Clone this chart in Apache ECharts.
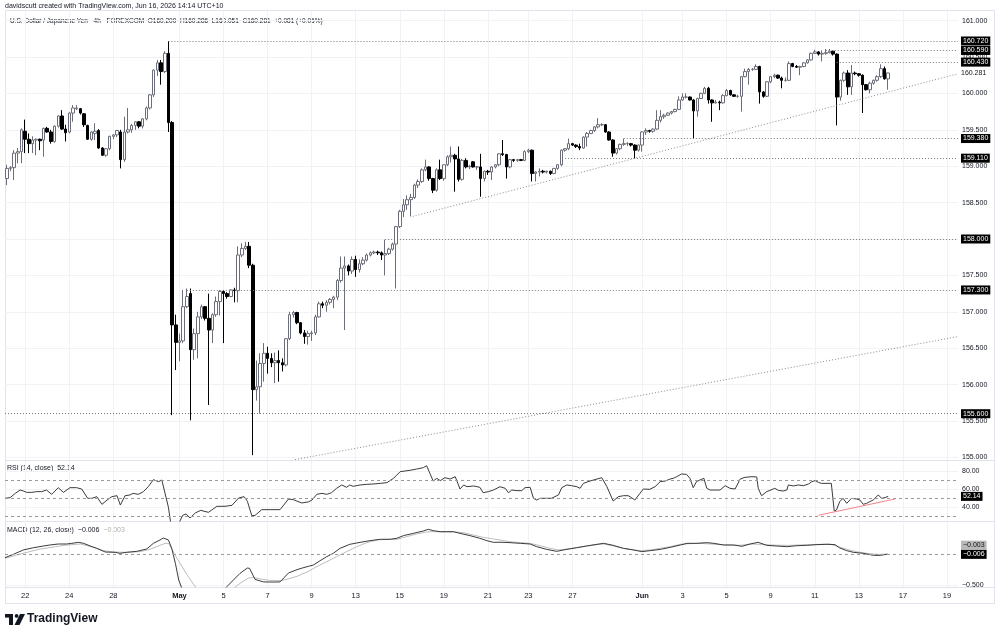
<!DOCTYPE html>
<html><head><meta charset="utf-8">
<script src="https://cdn.jsdelivr.net/npm/echarts@6/dist/echarts.min.js"></script>
<style>html,body{margin:0;padding:0;background:#fff}#c{width:1001px;height:637px}</style>
</head><body><div id="c"></div>
<script>
// ---- DATA (4h bars, index 0 = first visible bar) ----
// each candle: [open, high, low, close]
const candles = [
[158.83,159.02,158.74,158.97],[158.97,159.00,158.93,158.98],[158.98,159.22,158.81,159.18],[159.18,159.25,159.04,159.20],
[159.20,159.52,159.04,159.50],[159.48,159.64,159.18,159.37],[159.37,159.45,159.18,159.31],[159.31,159.41,159.18,159.36],
[159.36,159.38,159.15,159.37],[159.37,159.38,159.22,159.35],[159.36,159.53,159.13,159.52],[159.52,159.54,159.46,159.47],
[159.47,159.50,159.31,159.34],[159.34,159.56,159.32,159.55],[159.55,159.70,159.53,159.69],[159.69,159.77,159.50,159.51],
[159.51,159.57,159.34,159.46],[159.47,159.74,159.45,159.73],[159.73,159.84,159.61,159.80],[159.79,159.84,159.77,159.80],
[159.79,159.80,159.71,159.73],[159.72,159.73,159.54,159.57],[159.56,159.57,159.36,159.37],[159.37,159.48,159.35,159.47],
[159.45,159.59,159.36,159.48],[159.49,159.51,159.24,159.25],[159.25,159.26,159.14,159.15],[159.15,159.25,159.13,159.24],
[159.24,159.42,159.22,159.41],[159.41,159.44,159.37,159.43],[159.43,159.50,159.40,159.49],[159.47,159.50,158.97,159.09],
[159.09,159.68,159.06,159.47],[159.47,159.80,159.45,159.50],[159.50,159.58,159.46,159.56],[159.56,159.62,159.50,159.61],
[159.61,159.62,159.52,159.55],[159.55,159.66,159.52,159.65],[159.65,159.82,159.63,159.80],[159.80,159.99,159.78,159.98],
[159.98,160.33,159.95,160.32],[160.32,160.46,160.24,160.42],[160.42,160.46,160.12,160.30],[160.30,160.58,160.28,160.55],
[160.55,160.72,159.47,159.60],[159.60,159.62,155.58,156.82],[156.82,156.96,156.20,156.58],[156.58,156.70,156.32,156.60],
[156.60,157.30,156.57,157.07],[157.07,157.32,157.05,157.21],[157.25,157.32,155.51,156.48],[156.48,156.77,156.34,156.70],
[156.70,157.00,156.36,156.93],[156.93,157.10,156.90,157.07],[157.07,157.08,156.88,156.91],[156.91,157.25,155.72,156.75],
[156.75,156.98,156.57,156.96],[156.96,157.21,156.93,157.14],[157.14,157.30,156.95,157.28],[157.28,157.30,156.57,157.25],
[157.25,157.27,157.18,157.21],[157.21,157.31,157.20,157.30],[157.30,157.33,157.13,157.29],[157.29,157.90,157.13,157.78],
[157.78,157.94,157.75,157.87],[157.87,157.96,157.85,157.90],[157.90,157.96,157.60,157.64],[157.64,157.66,155.03,155.93],
[155.93,156.33,155.78,155.97],[155.97,156.43,155.60,156.29],[156.29,156.57,156.04,156.43],[156.43,156.52,156.15,156.36],
[156.36,156.43,156.24,156.30],[156.30,156.44,156.02,156.33],[156.33,156.47,156.04,156.30],[156.30,156.36,156.18,156.27],
[156.27,156.64,156.25,156.63],[156.63,157.00,156.61,156.96],[156.96,157.01,156.92,156.99],[156.99,157.00,156.83,156.85],
[156.85,156.86,156.69,156.71],[156.71,156.75,156.56,156.66],[156.66,156.74,156.55,156.70],[156.70,156.74,156.60,156.71],
[156.71,156.96,156.68,156.93],[156.93,157.14,156.92,157.11],[157.11,157.14,157.05,157.09],[157.09,157.16,157.00,157.13],
[157.13,157.19,157.10,157.17],[157.17,157.22,157.05,157.20],[157.20,157.45,157.16,157.43],[157.43,157.76,157.40,157.60],
[157.60,157.76,156.75,157.63],[157.63,157.65,157.50,157.56],[157.56,157.76,157.52,157.72],[157.72,157.77,157.48,157.58],
[157.58,157.72,157.54,157.66],[157.66,157.75,157.64,157.71],[157.71,157.80,157.69,157.78],[157.78,157.83,157.76,157.81],
[157.81,157.84,157.79,157.82],[157.82,157.84,157.78,157.81],[157.81,157.83,157.71,157.78],[157.78,157.99,157.50,157.80],
[157.80,157.88,157.78,157.86],[157.86,157.95,157.84,157.93],[157.93,158.18,157.32,158.17],[158.17,158.40,158.15,158.38],
[158.38,158.55,158.30,158.47],[158.47,158.60,158.40,158.54],[158.54,158.62,158.31,158.57],[158.57,158.76,158.55,158.74],
[158.74,158.82,158.70,158.79],[158.79,158.97,158.77,158.95],[158.95,159.09,158.93,158.99],[158.99,159.00,158.80,158.83],
[158.83,158.84,158.63,158.67],[158.67,158.97,158.65,158.95],[158.95,159.09,158.81,158.83],[158.83,159.02,158.80,159.02],
[159.02,159.15,159.00,159.13],[159.13,159.27,159.05,159.15],[159.15,159.17,158.65,159.10],[159.10,159.27,158.79,158.82],
[158.82,159.10,158.80,159.08],[159.08,159.11,158.97,158.99],[158.99,159.02,158.96,159.00],[159.06,159.07,158.98,158.99],
[158.99,159.00,158.95,158.99],[158.99,159.17,158.58,158.83],[158.83,158.94,158.79,158.93],[158.93,158.95,158.88,158.92],
[158.92,159.00,158.81,158.99],[158.99,159.03,158.97,159.02],[159.02,159.18,159.00,159.17],[159.17,159.36,159.14,159.16],
[159.16,159.17,158.83,158.99],[158.99,159.10,158.97,159.09],[159.09,159.10,159.06,159.08],[159.08,159.10,159.06,159.09],
[159.09,159.10,159.07,159.08],[159.08,159.22,159.07,159.20],[159.20,159.24,159.18,159.22],[159.22,159.23,158.79,158.90],
[158.90,158.93,158.79,158.92],[158.92,158.97,158.86,158.93],[158.93,158.95,158.90,158.92],[158.92,158.94,158.90,158.93],
[158.93,158.94,158.88,158.90],[158.90,158.97,158.89,158.97],[158.97,159.03,158.95,159.02],[159.02,159.23,159.00,159.22],
[159.22,159.25,159.20,159.24],[159.24,159.38,159.22,159.31],[159.31,159.32,159.28,159.29],[159.29,159.30,159.25,159.27],
[159.27,159.31,159.22,159.25],[159.25,159.41,159.24,159.40],[159.40,159.47,159.27,159.45],[159.45,159.50,159.44,159.49],
[159.49,159.55,159.47,159.54],[159.54,159.66,159.52,159.57],[159.57,159.59,159.55,159.57],[159.57,159.58,159.46,159.47],
[159.47,159.48,159.35,159.36],[159.36,159.37,159.13,159.18],[159.18,159.25,159.16,159.24],[159.24,159.31,159.22,159.30],
[159.30,159.38,159.28,159.31],[159.31,159.33,159.28,159.31],[159.31,159.32,159.27,159.29],[159.29,159.30,159.11,159.22],
[159.22,159.30,159.20,159.29],[159.29,159.48,159.20,159.47],[159.47,159.52,159.43,159.49],[159.49,159.50,159.46,159.48],
[159.48,159.52,159.46,159.51],[159.51,159.77,159.50,159.63],[159.63,159.77,159.60,159.68],[159.68,159.72,159.65,159.70],
[159.70,159.74,159.69,159.73],[159.73,159.76,159.71,159.75],[159.75,159.79,159.74,159.78],[159.78,159.96,159.77,159.91],
[159.91,160.00,159.90,159.95],[159.95,160.00,159.93,159.95],[159.95,159.96,159.90,159.91],[159.91,159.92,159.38,159.76],
[159.76,159.94,159.68,159.93],[159.93,160.01,159.92,160.00],[160.00,160.09,159.99,160.07],[160.07,160.09,159.86,159.91],
[159.91,159.92,159.61,159.87],[159.87,159.91,159.86,159.88],[159.88,159.90,159.77,159.87],[159.87,159.99,159.86,159.97],
[159.97,160.06,159.96,160.04],[160.04,160.05,159.97,159.98],[159.98,159.99,159.95,159.96],[159.96,159.98,159.94,159.96],
[159.96,160.24,159.75,160.23],[160.23,160.34,160.22,160.30],[160.30,160.35,160.12,160.33],[160.33,160.35,160.31,160.33],
[160.33,160.40,160.32,160.37],[160.37,160.38,159.86,160.02],[160.02,160.03,159.94,159.96],[159.96,160.17,159.95,160.16],
[160.16,160.24,160.14,160.23],[160.23,160.27,160.21,160.25],[160.25,160.26,160.20,160.21],[160.21,160.23,160.07,160.18],
[160.18,160.22,160.16,160.18],[160.18,160.44,160.17,160.41],[160.41,160.42,160.36,160.37],[160.37,160.39,160.35,160.36],
[160.36,160.38,160.25,160.37],[160.37,160.43,160.36,160.42],[160.42,160.47,160.41,160.46],[160.46,160.56,160.45,160.55],
[160.55,160.60,160.54,160.57],[160.57,160.58,160.52,160.54],[160.54,160.59,160.44,160.55],[160.55,160.61,160.53,160.56],
[160.56,160.61,160.55,160.58],[160.58,160.59,160.52,160.54],[160.54,160.55,159.56,159.95],[159.95,160.19,159.90,160.18],
[160.18,160.30,160.16,160.28],[160.28,160.32,159.98,160.09],[160.09,160.39,159.98,160.28],[160.28,160.30,160.25,160.27],
[160.27,160.28,160.23,160.25],[160.25,160.26,159.73,160.12],[160.12,160.13,160.04,160.05],[160.05,160.16,160.00,160.14],
[160.14,160.19,160.12,160.18],[160.18,160.25,160.16,160.23],[160.23,160.40,160.21,160.34],[160.34,160.37,160.19,160.20],
[160.200,160.286,160.051,160.281]
];
// RSI(14) vertices: [bar, value]
const rsi = [[-0.5,50.0],[0.9,50.7],[2.3,55.5],[3.6,59.2],[4.5,58.1],[5.4,56.6],[6.8,56.6],[8.1,57.4],[9.5,57.4],[10.8,59.2],[12.2,54.4],[14,61.8],[15.4,56.6],[17.2,61.8],[19,61.8],[20.4,60.3],[22,50.0],[23.2,50.0],[24.5,51.8],[25.9,43.3],[27.3,48.1],[28.6,51.8],[30,52.9],[30.9,42.5],[32.2,52.9],[33.5,53.7],[34.4,55.5],[35.8,54.4],[37.2,57.4],[38.5,62.9],[39.9,70.7],[41.3,68.5],[42.2,70.3],[42.7,69.6],[44,40],[45,12],[46,15],[46.8,22],[47.9,31.1],[48.8,32.6],[49.9,28.1],[51.3,33.7],[52.8,36.6],[54.9,34.4],[57.2,41.1],[59.4,41.1],[61.3,42.2],[63.1,50.3],[64.6,51.8],[65.5,46.7],[66.7,30.7],[67.6,31.0],[69.4,37.4],[71.7,37.4],[74.4,37.4],[76.7,49.2],[78,48.5],[80.3,44.8],[82.1,46.0],[83.1,48.1],[84.4,54.4],[85.8,55.5],[87.1,54.4],[88.4,56.2],[89.8,61.1],[91.2,64.8],[92.5,62.2],[93.4,64.8],[94.3,63.3],[96.2,64.8],[98,65.5],[99.8,65.9],[101.7,66.6],[103.5,67.4],[105.3,72.2],[107.1,79.6],[109.8,81.1],[111.6,82.5],[113.4,84.0],[114.3,86.2],[115.2,77.7],[116.1,69.2],[117.1,72.2],[118,69.6],[119.3,72.9],[120.7,71.4],[122.1,74.0],[123.4,60.3],[124.4,64.8],[125.3,62.9],[127.1,63.7],[128.8,62.2],[129.7,56.2],[131.1,57.4],[132.5,59.2],[134.3,62.9],[135.7,61.1],[136.6,56.2],[137.5,59.2],[138.9,58.5],[140.2,58.5],[141.1,61.8],[142.5,62.2],[143.4,50.0],[144.3,48.1],[145.2,50.0],[147,50.0],[148.3,50.0],[150.2,53.7],[151.1,61.8],[152.5,64.8],[153.8,64.0],[155.2,62.9],[156.1,61.1],[157,66.6],[158.8,69.2],[160.7,71.4],[162,72.9],[163.4,62.9],[165.1,47.0],[166.5,51.8],[167.9,52.9],[169.2,52.9],[170.1,50.7],[171,48.1],[172.4,55.5],[173.3,60.3],[175.1,60.0],[176.5,62.9],[177.9,68.5],[179.3,69.2],[180.6,71.4],[181.5,72.2],[182.4,74.0],[183.7,77.0],[185.1,76.6],[186,72.2],[186.9,61.8],[187.8,68.5],[188.7,70.3],[189.8,72.2],[190.6,61.1],[191.5,59.2],[192.8,59.2],[194.2,59.2],[195.6,64.0],[196.9,61.1],[198.3,60.3],[199.7,71.4],[201,73.3],[202.9,74.0],[204.2,73.7],[204.6,61.1],[205.5,52.9],[206,50.7],[206.9,57.4],[207.8,58.8],[209.1,61.1],[210.1,58.8],[211.4,58.1],[212.4,59.2],[212.8,64.8],[214.2,63.7],[215.5,64.8],[216.9,64.0],[218.3,65.9],[219.2,68.5],[220.1,69.6],[221,67.7],[221.8,66.6],[223.6,66.6],[224.5,66.6],[225.3,35.9],[225.9,37.0],[226.8,46.3],[227.7,50.0],[228.7,44.4],[230,50.0],[231.4,49.2],[232.3,48.1],[233.2,43.3],[234.1,44.4],[235,46.3],[235.9,48.1],[237.3,53.7],[238.2,50.0],[239.1,50.7],[240,52.14]];
// MACD line and signal vertices: [bar, value]
const macd = [[-0.5,-0.059],[1.8,-0.005],[4.5,0.065],[7.3,0.102],[10,0.129],[11.7,0.145],[14,0.161],[16.3,0.161],[17.7,0.172],[19.5,0.188],[20.9,0.172],[22.7,0.129],[24.5,0.091],[26.8,0.032],[29.5,0.027],[30.8,0.011],[32.6,0.027],[35.4,0.043],[38.1,0.081],[39.9,0.172],[41.7,0.226],[42.6,0.258],[43.1,0.263],[44,0.226],[44.9,0.091],[45.9,-0.151],[46.8,-0.419],[47.7,-0.56],[50,-0.75],[54,-0.85],[57,-0.7],[59.9,-0.527],[61.7,-0.419],[63.5,-0.312],[65.5,-0.226],[66.1,-0.231],[67.6,-0.41],[69.9,-0.45],[72.5,-0.452],[74.4,-0.45],[76.7,-0.306],[79,-0.253],[80.5,-0.225],[82.1,-0.199],[83.5,-0.177],[85.3,-0.108],[87.1,-0.043],[88.9,0.011],[90.7,0.091],[93.4,0.156],[96.2,0.188],[98.9,0.215],[101.7,0.237],[104.4,0.237],[106.2,0.253],[108,0.296],[110.7,0.333],[113.4,0.371],[114.8,0.398],[116.1,0.376],[118,0.36],[119.8,0.36],[121.6,0.36],[123.4,0.333],[126.1,0.296],[128.8,0.253],[130.7,0.215],[132.5,0.188],[134.3,0.19],[137,0.183],[139.8,0.172],[142.5,0.161],[144.3,0.118],[147,0.075],[149.7,0.043],[152.5,0.075],[155.2,0.102],[157.9,0.129],[160.7,0.156],[162.5,0.172],[165.1,0.14],[167.9,0.091],[170.7,0.065],[172.9,0.038],[175.2,0.054],[178,0.075],[180.7,0.108],[183.4,0.145],[185.2,0.172],[187.9,0.172],[190.6,0.183],[192.5,0.172],[195.2,0.145],[197.9,0.145],[200.2,0.124],[202.4,0.161],[204.6,0.188],[206.9,0.14],[209.6,0.129],[212.4,0.118],[215.1,0.134],[217.8,0.14],[220.6,0.151],[223.3,0.156],[225.5,0.151],[226.8,0.097],[228.7,0.054],[230.5,0.027],[233.2,0.011],[236,-0.022],[237.8,-0.022],[239.6,-0.005],[240,-0.006]];
const signal = [[-0.5,-0.07],[2.7,-0.016],[5.5,0.027],[8.7,0.075],[13.2,0.118],[16.3,0.145],[20.1,0.161],[23.6,0.108],[26.3,0.054],[29.1,0.032],[32.6,0.027],[36.2,0.038],[39,0.075],[41.7,0.14],[42.8,0.165],[44,0.177],[46.3,-0.065],[49,-0.33],[51.7,-0.56],[56,-0.7],[59,-0.64],[61.7,-0.554],[63.5,-0.473],[65.8,-0.387],[67.2,-0.38],[68.9,-0.4],[71.5,-0.425],[74.4,-0.43],[76.2,-0.41],[79,-0.36],[82.1,-0.28],[84.4,-0.204],[87.1,-0.124],[89.8,-0.043],[92.5,0.038],[95.3,0.118],[98,0.183],[100.8,0.226],[103.5,0.237],[106.2,0.237],[108.9,0.28],[111.6,0.323],[114.3,0.355],[116.1,0.36],[118.8,0.355],[121.6,0.355],[124.3,0.344],[127,0.306],[129.7,0.269],[132.5,0.242],[134.3,0.226],[137,0.199],[139.8,0.183],[142.5,0.172],[145.2,0.134],[147.9,0.091],[150.2,0.065],[152.5,0.081],[155.2,0.102],[157.9,0.129],[160.7,0.151],[162.5,0.161],[165.1,0.129],[167.9,0.091],[170.6,0.065],[172.4,0.054],[175.1,0.065],[177.9,0.091],[180.6,0.118],[183.3,0.156],[186,0.167],[188.7,0.172],[191.5,0.161],[194.2,0.151],[196.9,0.145],[199.7,0.14],[202.4,0.161],[205.1,0.156],[207.8,0.145],[210.6,0.14],[213.3,0.14],[216,0.145],[218.8,0.151],[221.5,0.156],[224.1,0.161],[225.9,0.129],[228.7,0.075],[231.4,0.038],[234.1,0.011],[236.9,-0.005],[240,-0.003]];
// time axis ticks (bar index) and their labels
const dayTicks  = [5,17,29,47,59,71,83,95,107,119,131,142,154,173,184,196,208,220,232,244,256];
const dayLabels = ['22','24','28','May','5','7','9','13','15','19','21','23','27','Jun','3','5','9','11','13','17','19'];
const priceTicks = [155,155.5,156,156.5,157,157.5,158,158.5,159,159.5,160,160.5,161];
const rsiTicks = [40,60,80];
const rsiBands = [70,50,30];
const macdTicks = [-0.5];
// horizontal levels: [price, first bar]
const levels = [[160.720,44],[160.590,223],[160.430,226],[159.380,168],[159.110,152],[158.000,103],[157.300,49],[155.600,-0.5]];
// trend lines: [[bar, price], [bar, price]]
const trendLines = [[[110.5,158.31],[259,160.27]],[[78.5,154.97],[259,156.66]]];
const rsiTrend = [[221,31.1],[241.8,49.2]];
const lastPrice = 160.281, lastRsi = 52.14, lastMacd = -0.006, lastSignal = -0.003;

// ---- CHART ----
const FONT = 'Liberation Sans, Arial, sans-serif';
const X_MIN = -0.5, X_MAX = 259;
const CLEAR = 'rgba(0,0,0,0)';
const grids = [
  {left:5, top:11, width:953, height:449},
  {left:5, top:461, width:953, height:60},
  {left:5, top:521, width:953, height:66}
];
const gridLine = {show:true, lineStyle:{color:'#f0f2f6', width:1}};
function xAx(i, showLabels){
  return {type:'value', gridIndex:i, min:X_MIN, max:X_MAX, show:true,
    axisLine:{show:false}, axisTick:{show:false, customValues:dayTicks},
    splitLine:gridLine,
    axisLabel:{show:showLabels, customValues:dayTicks, margin:5, fontSize:7.5, color:'#131722', fontFamily:FONT,
      formatter:v=>{const k=dayTicks.indexOf(Math.round(v)); const t=k>=0?dayLabels[k]:''; return (t==='May'||t==='Jun')?'{b|'+t+'}':t;},
      rich:{b:{fontWeight:'bold', fontSize:7.5, color:'#131722', fontFamily:FONT}}}};
}
function yAx(i, min, max, ticks, fmt){
  return {type:'value', gridIndex:i, min:min, max:max, position:'right',
    axisLine:{show:false}, axisTick:{show:false, customValues:ticks}, splitLine:gridLine,
    axisLabel:{customValues:ticks, formatter:fmt, fontSize:7, color:'#131722', margin:4, fontFamily:FONT}};
}
const boxLabel = (txt, bg, fg, off) => ({show:true, position:'end', distance:3, formatter:txt, backgroundColor:bg, color:fg,
  fontSize:7, fontFamily:FONT, padding:[1,2,1,2], offset:off||[0,0]});

const levelLines = levels.map(([p,x0]) => [
  {coord:[x0,p], label:boxLabel(p.toFixed(3),'#000','#fff'), lineStyle:{color:'#7a7a7a', type:[1,2], width:1}},
  {coord:[X_MAX,p]}
]);
const trendMl = trendLines.map(([a,b]) => [
  {coord:a, label:{show:false}, lineStyle:{color:'#8a8a8a', type:[1,2], width:1}}, {coord:b}
]);
const lastPriceMl = [[
  {coord:[240,lastPrice], label:{show:true, position:'end', distance:3, formatter:lastPrice.toFixed(3), fontSize:7, color:'#131722', fontFamily:FONT}, lineStyle:{color:CLEAR, width:1}},
  {coord:[X_MAX,lastPrice]}
]];

const option = {
  animation:false,
  backgroundColor:'#ffffff',
  grid:grids,
  xAxis:[xAx(0,false), xAx(1,false), xAx(2,true)],
  yAxis:[
    yAx(0, 154.964, 161.132, priceTicks, v=>v.toFixed(3)),
    yAx(1, 24.78, 91.44, rsiTicks, v=>v.toFixed(2)),
    yAx(2, -0.532, 0.532, macdTicks, v=>v.toFixed(3).replace('-','\u2212'))
  ],
  series:[
    {type:'candlestick', xAxisIndex:0, yAxisIndex:0, barWidth:3,
      data:candles.map((d,i)=>[i,d[0],d[3],d[2],d[1]]),
      encode:{x:0, y:[1,2,3,4]},
      itemStyle:{color:'#ffffff', color0:'#000000', borderColor:'#6b6e78', borderColor0:'#000000', borderWidth:1},
      markLine:{silent:true, symbol:['none','none'], animation:false, data:[...trendMl, ...levelLines, ...lastPriceMl]}
    },
    {type:'line', xAxisIndex:1, yAxisIndex:1, data:rsi, showSymbol:false, symbol:'none', clip:true,
      lineStyle:{color:'#3b3b3b', width:1},
      markLine:{silent:true, symbol:['none','none'], animation:false, data:[
        ...rsiBands.map(v=>[{coord:[X_MIN,v], label:{show:false}, lineStyle:{color:'#9a9a9a', type:[3,3], width:1}},{coord:[X_MAX,v]}]),
        [{coord:rsiTrend[0], label:{show:false}, lineStyle:{color:'#f4828a', type:'solid', width:1}},{coord:rsiTrend[1]}],
        [{coord:[240,lastRsi], label:boxLabel(lastRsi.toFixed(2),'#000','#fff'), lineStyle:{color:CLEAR, width:1}},{coord:[X_MAX,lastRsi]}]
      ]}
    },
    {type:'line', xAxisIndex:2, yAxisIndex:2, data:signal, showSymbol:false, symbol:'none', clip:true,
      lineStyle:{color:'#bdbdbd', width:1},
      markLine:{silent:true, symbol:['none','none'], animation:false, data:[
        [{coord:[240,lastSignal], label:boxLabel('\u22120.003','#b8b8b8','#131722',[0,-9]), lineStyle:{color:CLEAR, width:1}},{coord:[X_MAX,lastSignal]}]
      ]}
    },
    {type:'line', xAxisIndex:2, yAxisIndex:2, data:macd, showSymbol:false, symbol:'none', clip:true,
      lineStyle:{color:'#3b3b3b', width:1},
      markLine:{silent:true, symbol:['none','none'], animation:false, data:[
        [{coord:[X_MIN,0], label:{show:false}, lineStyle:{color:'#9a9a9a', type:[3,3], width:1}},{coord:[X_MAX,0]}],
        [{coord:[240,lastMacd], label:boxLabel('\u22120.006','#000','#fff'), lineStyle:{color:CLEAR, width:1}},{coord:[X_MAX,lastMacd]}]
      ]}
    }
  ],
  graphic:[
    {type:'rect', shape:{x:5.5, y:10.5, width:989, height:593}, style:{fill:'none', stroke:'#e0e3eb', lineWidth:1}, silent:true, z:-1},
    {type:'line', shape:{x1:5, y1:460.5, x2:995, y2:460.5}, style:{stroke:'#e0e3eb', lineWidth:1}, silent:true},
    {type:'line', shape:{x1:5, y1:521.5, x2:995, y2:521.5}, style:{stroke:'#e0e3eb', lineWidth:1}, silent:true},
    {type:'line', shape:{x1:5, y1:587.5, x2:995, y2:587.5}, style:{stroke:'#e0e3eb', lineWidth:1}, silent:true},
    {type:'text', left:5, top:3, style:{text:'davidscutt created with TradingView.com, Jun 16, 2026 14:14 UTC+10', fontSize:7, fill:'#131722', fontFamily:FONT}},
    {type:'text', left:10, top:17.5, style:{text:'U.S. Dollar / Japanese Yen \u00b7 4h \u00b7 FOREXCOM  O160.200  H160.286  L160.051  C160.281  +0.081 (+0.05%)', fontSize:6.5, fill:'#131722', fontFamily:FONT}},
    {type:'text', left:7, top:464.5, style:{text:'RSI (14, close)  52.14', fontSize:7, fill:'#131722', fontFamily:FONT}},
    {type:'text', left:7, top:526.5, style:{text:'{a|MACD (12, 26, close)}  {a|\u22120.006}  {g|\u22120.003}', fontSize:7, fontFamily:FONT,
      rich:{a:{fontSize:7, fill:'#131722', fontFamily:FONT}, g:{fontSize:7, fill:'#b0b0b0', fontFamily:FONT}}}},
    {type:'group', left:5, top:614, children:[
      {type:'rect', shape:{x:0, y:0, width:8, height:3.6}, style:{fill:'#131722'}},
      {type:'rect', shape:{x:4, y:0, width:4, height:11}, style:{fill:'#131722'}},
      {type:'circle', shape:{cx:11.6, cy:1.9, r:1.9}, style:{fill:'#131722'}},
      {type:'polygon', shape:{points:[[15,0],[20,0],[14.5,11],[9.5,11]]}, style:{fill:'#131722'}}
    ]},
    {type:'text', left:27, top:612.5, style:{text:'TradingView', fontSize:12, fontWeight:'bold', fill:'#131722', fontFamily:FONT}}
  ]
};
const chart = echarts.init(document.getElementById('c'), null, {renderer:'canvas'});
chart.setOption(option);
</script>
</body></html>
